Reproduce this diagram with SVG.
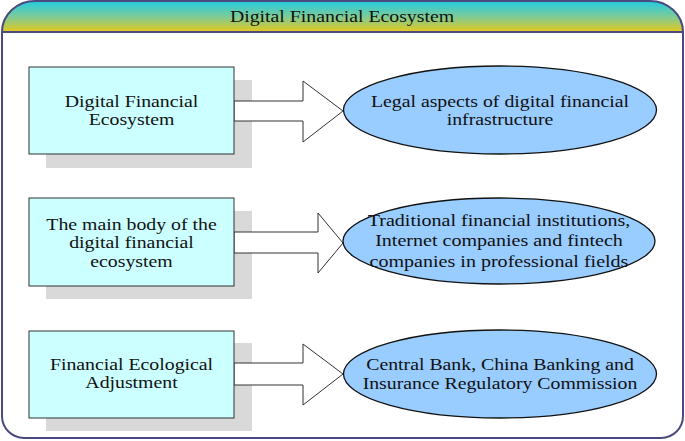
<svg xmlns="http://www.w3.org/2000/svg" width="685" height="441" viewBox="0 0 685 441">
<defs>
<linearGradient id="hdr" x1="0" y1="0" x2="0" y2="1">
<stop offset="0" stop-color="#22cbe0"/>
<stop offset="0.5" stop-color="#7ccb98"/>
<stop offset="1" stop-color="#e6c81a"/>
</linearGradient>
</defs>
<style>
.frame{fill:none;stroke:#4b4a80;stroke-width:2}
.shadow{fill:#d9d9d9}
.box{fill:#ccffff;stroke:#333;stroke-width:1}
.ell{fill:#99ccff;stroke:#111;stroke-width:1.3}
.arrow{fill:#ffffff;stroke:#333;stroke-width:1}
.t{font-family:"Liberation Serif","Times New Roman",serif;font-size:17px;fill:#111;text-anchor:middle}
</style>
<rect width="685" height="441" fill="#ffffff"/>
<g id="frame">
<path d="M2,32 A33,31 0 0 1 35,1 L650,1 A33,31 0 0 1 683,32 Z" fill="url(#hdr)"/>
<path class="frame" d="M35,1 L650,1 A33,31 0 0 1 683,32 L683,416 A22,22 0 0 1 661,438 L24,438 A22,22 0 0 1 2,416 L2,32 A33,31 0 0 1 35,1 Z"/>
<line class="frame" x1="2" y1="32" x2="683" y2="32"/>
<text class="t" transform="translate(342 21.5) scale(1.165 1)">Digital Financial Ecosystem</text>
</g>
<g id="shadows">
<rect class="shadow" x="46" y="80" width="206" height="88"/>
<rect class="shadow" x="46" y="211" width="206" height="88"/>
<rect class="shadow" x="46" y="343" width="206" height="88"/>
</g>
<g id="connectors">
<polygon class="arrow" points="234,101 303,101 303,81 343,111 303,142 303,121 234,121"/>
<polygon class="arrow" points="234,232 318,232 318,213 343,243 318,273 318,253 234,253"/>
<polygon class="arrow" points="234,363 303,363 303,344 343,374 303,405 303,385 234,385"/>
</g>
<g id="box1">
<rect class="box" x="29" y="67" width="205" height="87"/>
<text class="t" transform="translate(131.5 106.7) scale(1.165 1)">Digital Financial</text>
<text class="t" transform="translate(131.5 125.2) scale(1.165 1)">Ecosystem</text>
</g>
<g id="box2">
<rect class="box" x="29" y="198" width="205" height="88"/>
<text class="t" transform="translate(131.5 229.5) scale(1.165 1)">The main body of the</text>
<text class="t" transform="translate(131.5 248) scale(1.165 1)">digital financial</text>
<text class="t" transform="translate(131.5 266.5) scale(1.165 1)">ecosystem</text>
</g>
<g id="box3">
<rect class="box" x="29" y="331" width="205" height="87"/>
<text class="t" transform="translate(131.5 369.5) scale(1.165 1)">Financial Ecological</text>
<text class="t" transform="translate(131.5 388.3) scale(1.165 1)">Adjustment</text>
</g>
<g id="ellipse1">
<ellipse class="ell" cx="500" cy="110" rx="156.5" ry="44"/>
<text class="t" transform="translate(500 106.7) scale(1.165 1)">Legal aspects of digital financial</text>
<text class="t" transform="translate(500 125.2) scale(1.165 1)">infrastructure</text>
</g>
<g id="ellipse2">
<ellipse class="ell" cx="499" cy="241" rx="156" ry="43"/>
<text class="t" transform="translate(499 225.7) scale(1.18 1)">Traditional financial institutions,</text>
<text class="t" transform="translate(499 246.2) scale(1.18 1)">Internet companies and fintech</text>
<text class="t" transform="translate(499 266.7) scale(1.18 1)">companies in professional fields</text>
</g>
<g id="ellipse3">
<ellipse class="ell" cx="500" cy="374" rx="156.5" ry="44"/>
<text class="t" transform="translate(500 370) scale(1.165 1)">Central Bank, China Banking and</text>
<text class="t" transform="translate(500 388.5) scale(1.165 1)">Insurance Regulatory Commission</text>
</g>
</svg>
